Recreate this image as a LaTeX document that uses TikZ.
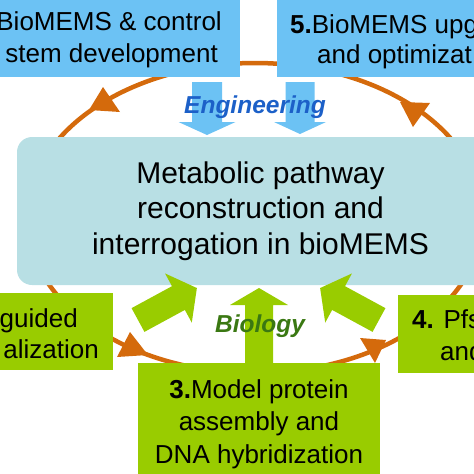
\documentclass[tikz,border=0pt]{standalone}
\usepackage{fontspec}
\setmainfont{Liberation Sans}
\definecolor{skyblue}{RGB}{108,194,244}
\definecolor{paleteal}{RGB}{184,223,228}
\definecolor{leafgreen}{RGB}{153,204,0}
\definecolor{darkleaf}{RGB}{58,120,18}
\definecolor{royal}{RGB}{28,96,200}
\definecolor{rust}{RGB}{212,106,12}
\begin{document}
\begin{tikzpicture}[x = 1pt, y = -1pt,
		stagebox/.style = {inner sep = 0pt},
		boxtext/.style = {font = \fontsize{26}{32.5}\selectfont, inner sep = 0pt},
		fieldtext/.style = {font = \fontsize{24.5}{24.5}\selectfont\bfseries\itshape, inner sep = 0pt}]
		\useasboundingbox (0, 0) rectangle (474, 474);
		\clip (0, 0) rectangle (474, 474);
		\draw[rust, line width = 4.5pt] (255, 218) ellipse (228 and 155);
		\foreach \ax/\ay/\bx/\by/\cx/\cy in {103/87/120/112/89/110, 430/103/400/102/413/127, 130/332/117/357/148/355, 360/338/386/340/375/363}
			\fill[rust] (\ax, \ay) -- (\bx, \by) -- (\cx, \cy) -- cycle;
		\node[stagebox, fill = skyblue, minimum width = 270pt, minimum height = 100pt, anchor = south east] (dev) at (240, 77) {};
		\node[stagebox, fill = skyblue, minimum width = 220pt, minimum height = 100pt, anchor = south west] (upgrade) at (277, 77) {};
		\node[stagebox, fill = leafgreen, minimum width = 140pt, minimum height = 77pt, anchor = north east] (func) at (113, 293) {};
		\node[stagebox, fill = leafgreen, minimum width = 100pt, minimum height = 78pt, anchor = north west] (pfs) at (398, 295) {};
		\node[stagebox, fill = leafgreen, minimum width = 242pt, minimum height = 122pt, boxtext, align = center] (dna) at (259, 424) {\textbf{3.}Model protein\\assembly and\\DNA hybridization};
		\node[stagebox, fill = paleteal, rounded corners = 15pt, minimum width = 487pt, minimum height = 148pt, font = \fontsize{30}{35.5}\selectfont, align = center] (core) at (260.5, 211) {Metabolic pathway\\reconstruction and\\interrogation in bioMEMS};
		\foreach \px/\py/\ang/\len/\sh/\hd/\hl/\col in {207/82/-90/53/15/28.5/13/skyblue, 300/82/-90/52/14.5/26/12/skyblue, 138/320/28.5/67/13.5/28/21/leafgreen, 259/363/90/75/14/29/17/leafgreen, 379/320/151.5/67/13.5/28/21/leafgreen}
			\fill[\col, shift = {(\px, \py)}, rotate = \ang] (0, -\sh) -- (\len - \hl, -\sh) -- (\len - \hl, -\hd) -- (\len, 0) -- (\len - \hl, \hd) -- (\len - \hl, \sh) -- (0, \sh) -- cycle;
		\node[boxtext, anchor = base east] (devA) at (222, 30) {BioMEMS \& control};
		\node[boxtext, anchor = base east] (devB) at (218, 62) {stem development};
		\node[boxtext, anchor = base west] (upgradeA) at (290, 33) {\textbf{5.}BioMEMS upg};
		\node[boxtext, anchor = base west] (upgradeB) at (317, 63) {and optimizat};
		\node[boxtext, anchor = base east] (funcA) at (78, 327) {guided};
		\node[boxtext, anchor = base east] (funcB) at (99, 358) {alization};
		\node[boxtext, anchor = base west] (pfsA) at (412, 328) {\textbf{4.} Pfs};
		\node[boxtext, anchor = base west] (pfsB) at (440, 360) {and};
		\node[fieldtext, text = royal, anchor = base] (eng) at (255, 113) {Engineering};
		\node[fieldtext, text = darkleaf, anchor = base] (bio) at (260, 332) {Biology};
	\end{tikzpicture}
\end{document}
